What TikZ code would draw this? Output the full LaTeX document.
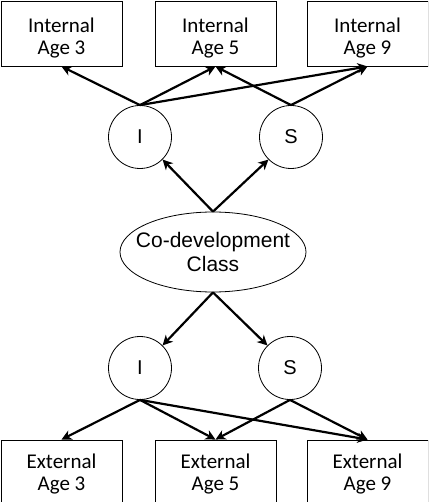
\documentclass[tikz,border=0pt]{standalone}
\usepackage{fontspec}
\setmainfont{Carlito}
\newfontfamily\arialfont{Liberation Sans}
\usepackage{tikz}
\usetikzlibrary{arrows.meta}
\usetikzlibrary{shapes.geometric}
\tikzset{agebox/.style = {draw, line width=0.9pt, minimum width=121pt, align=center,
                          font=\fontsize{21}{22}\selectfont},
         growth/.style = {draw, circle, line width=0.8pt, minimum size=63pt, inner sep=0pt,
                          font=\arialfont\fontsize{20}{22}\selectfont},
         path/.style = {-{Stealth[length=10pt, width=10pt, inset=3pt]}, line width=2.2pt}}

\begin{document}
\begin{tikzpicture}[x=1pt, y=-1pt]
    \clip (0, 0) rectangle (428, 502);

    \node [agebox, minimum height=65pt] (int3) at (61.5, 33.5) {\rule{0pt}{24pt}Internal\\Age 3};
    \node [agebox, minimum height=65pt] (int5) at (215.5, 33.5) {\rule{0pt}{24pt}Internal\\Age 5};
    \node [agebox, minimum height=65pt] (int9) at (367.5, 33.5) {\rule{0pt}{24pt}Internal\\Age 9};

    \node [growth] (iup) at (140, 137) {I};
    \node [growth] (sup) at (291, 137) {S};

    \node [draw, ellipse, line width=0.8pt, minimum width=186pt, minimum height=80pt,
           inner xsep=-14pt, inner ysep=5pt, align=center,
           font=\arialfont\fontsize{21}{24}\selectfont]
          (cls) at (213, 252) {Co-development\\Class};

    \node [growth] (ilow) at (140, 368) {I};
    \node [growth] (slow) at (290, 368) {S};

    \node [agebox, minimum height=68pt] (ext3) at (61.5, 474) {External\\Age 3};
    \node [agebox, minimum height=68pt] (ext5) at (215.5, 474) {External\\Age 5};
    \node [agebox, minimum height=68pt] (ext9) at (367.5, 474) {External\\Age 9};

    \draw [path] (iup.north) -- (int3.south);
    \draw [path] (iup.north) -- (int5.south);
    \draw [path] (iup.north) -- (int9.south);
    \draw [path] (sup.north) -- (int5.south);
    \draw [path] (sup.north) -- (int9.south);

    \draw [path] (cls.north) -- (iup.south east);
    \draw [path] (cls.north) -- (sup.south west);
    \draw [path] (cls.south) -- (ilow.north east);
    \draw [path] (cls.south) -- (slow.north west);

    \draw [path] (ilow.south) -- (ext3.north);
    \draw [path] (ilow.south) -- (ext5.north);
    \draw [path] (ilow.south) -- (ext9.north);
    \draw [path] (slow.south) -- (ext5.north);
    \draw [path] (slow.south) -- (ext9.north);
  \end{tikzpicture}
\end{document}
